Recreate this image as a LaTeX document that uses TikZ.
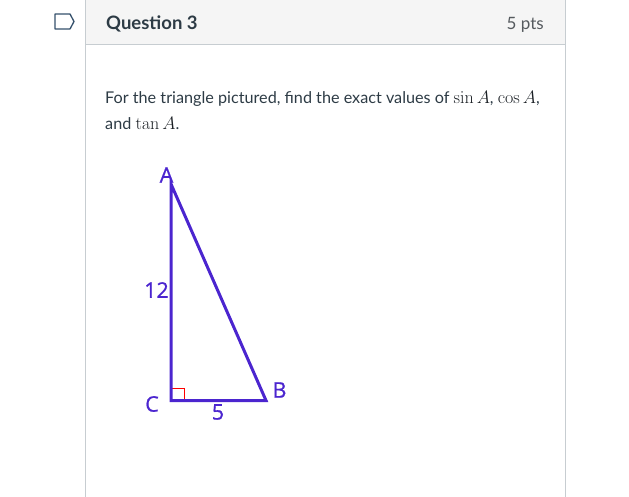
\RequirePackage{fix-cm}
\documentclass[tikz,border=0pt]{standalone}
\usepackage[no-math]{fontspec}
\setmainfont{Lato}
\newfontfamily\labelfont[FakeBold=0.8]{Open Sans}
\usepackage{tikz}
\usetikzlibrary{positioning}
\usepackage{xcolor}
\definecolor{inktext}{HTML}{2D3B45}
\definecolor{mathink}{HTML}{1A1F24}
\definecolor{ptsgray}{HTML}{555A5E}
\definecolor{panelline}{HTML}{C7CDD1}
\definecolor{headfill}{HTML}{F5F5F5}
\definecolor{iconblue}{HTML}{34506B}
\definecolor{tripurple}{HTML}{4B25CF}
\newcommand{\bigmath}[1]{{\color{mathink}\fontsize{18}{20}\selectfont$#1$}}
\tikzset{
  sidelabel/.style={text=tripurple, font=\labelfont\fontsize{21.5}{21.5}\selectfont, inner sep=0pt},
  bodytext/.style={text=inktext, font=\fontsize{16.2}{18}\selectfont, anchor=base west, inner sep=0pt}
}

\begin{document}
\begin{tikzpicture}[x=1pt, y=-1pt]
    \useasboundingbox (0,0) rectangle (629,497);
    % panel and header
    \filldraw[fill=headfill, draw=panelline, line width=1pt] (85,0) rectangle (565,45);
    \draw[panelline, line width=1pt] (85,45)--(85,497);
    \draw[panelline, line width=1pt] (565,45)--(565,497);
    \draw[iconblue, line width=1.3pt, line join=round] (55,14)--(70,14)--(74,21.5)--(70,29)--(55,29)--cycle;
    \node[text=inktext, font=\bfseries\fontsize{18.5}{20}\selectfont, anchor=base west, inner sep=0pt] (qtitle) at (106,29.5) {Question 3};
    \node[text=ptsgray, font=\fontsize{17}{20}\selectfont, anchor=base east, inner sep=0pt] (qpts) at (544,29.5) {5 pts};
    % question text
    \node[bodytext] (line1) at (105,104) {For the triangle pictured, find the exact values of \bigmath{\sin A}, \bigmath{\cos A},};
    \node[bodytext] (line2) at (105,129.5) {and \bigmath{\tan A}.};
    % triangle
    \coordinate (A) at (171,184);
    \coordinate (C) at (171,400.5);
    \coordinate (B) at (266,400.5);
    \draw[red, line width=0.8pt] (172,388)--(184,388)--(184,400);
    \draw[tripurple, line width=3pt, line join=miter] (A)--(C)--(B)--cycle;
    \node[sidelabel] (labA) at (166.5,175) {A};
    \node[sidelabel] (labB) at (279.5,390) {B};
    \node[sidelabel] (labC) at (152,404) {C};
    \node[sidelabel] (lab12) at (156.5,290) {12};
    \node[sidelabel] (lab5) at (218,412) {5};
\end{tikzpicture}
\end{document}
